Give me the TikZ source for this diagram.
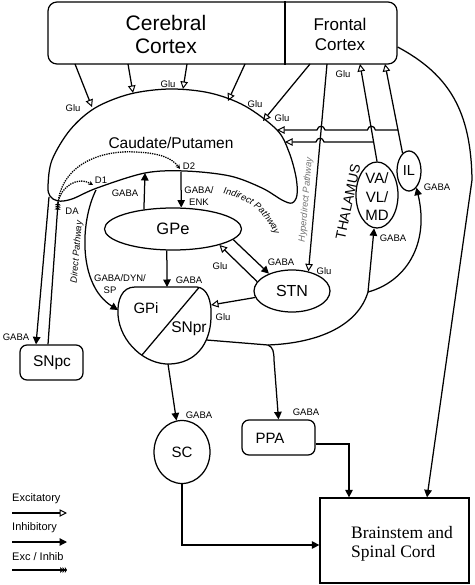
\documentclass[tikz,border=0pt]{standalone}
\usepackage{fontspec}
\setmainfont{Liberation Sans}
\newfontfamily\timesf{Liberation Serif}
\usetikzlibrary{arrows.meta,shapes.geometric,decorations.text}
\begin{document}
\begin{tikzpicture}[x=1pt,y=-1pt,
  base/.style={line width=1.25pt},
  exc/.style={base,-{Triangle[open,length=7.5pt,width=7.5pt,line width=1pt]}},
  inh/.style={base,-{Triangle[length=7.5pt,width=7.5pt]}},
  eitip/.style={base,-{Triangle[length=2.2pt,width=6pt]Triangle[length=2.2pt,width=6pt]Triangle[length=2.2pt,width=6pt]}},
  dot/.style={line width=1.3pt,densely dotted,-{Stealth[length=4.5pt,width=4.5pt]}},
  lbl/.style={font=\fontsize{9.5}{10.5}\selectfont,inner sep=0pt,align=center},
  path/.style={font=\itshape\fontsize{9.2}{10}\selectfont,inner sep=0pt},
  ell/.style={draw,base,ellipse,inner sep=0pt},
  rbox/.style={draw,base,rectangle,rounded corners=7pt,inner sep=0pt},
  bigt/.style={font=\fontsize{15.5}{18.5}\selectfont,inner sep=0pt,align=center},
  leg/.style={font=\fontsize{11}{12}\selectfont,inner sep=0pt,anchor=west}]
\useasboundingbox (0,0) rectangle (474,585);

% ---- cortex
\node[rbox,rounded corners=9pt,minimum width=349pt,minimum height=62pt] (cortex) at (222.5,33) {};
\coordinate (dv) at (285,0);
\draw[base] (cortex.north -| dv) -- (cortex.south -| dv);
\node[font=\fontsize{21}{23}\selectfont,align=center,inner sep=0pt] (cc) at (166,34) {Cerebral\\Cortex};
\node[font=\fontsize{17}{20}\selectfont,align=center,inner sep=0pt] (fc) at (340,34) {Frontal\\Cortex};

% ---- caudate / putamen
\draw[base] plot[smooth cycle,tension=0.55] coordinates {(58,201) (50,196) (48,186) (52,160) (70,130) (95,108) (130,94) (170,89) (210,93) (245,106) (277,130) (289,152) (296,177) (297,195) (292,203) (282,200) (262,188) (230,176) (185,171) (145,173) (97,188) (72,199)};
\node[font=\fontsize{15.5}{17}\selectfont,inner sep=0pt] (cp) at (171,143) {Caudate/Putamen};

% ---- nodes
\node[ell,minimum width=137pt,minimum height=42pt] (gpe) at (173,229) {};
\node[bigt,font=\fontsize{16.5}{18}\selectfont] (gpet) at (173,229) {GPe};
\node[ell,minimum width=76pt,minimum height=42pt] (stn) at (292,291) {};
\node[bigt,font=\fontsize{16}{18}\selectfont] (stnt) at (292,291) {STN};
\node[ell,minimum width=42pt,minimum height=66pt] (va) at (377,195) {};
\node[bigt,font=\fontsize{15}{18.5}\selectfont] (vat) at (377,197) {VA/\\VL/\\MD};
\node[ell,minimum width=24pt,minimum height=40pt] (il) at (409,171) {};
\node[bigt,font=\fontsize{14.5}{16}\selectfont] (ilt) at (409,171) {IL};
\node[rbox,minimum width=63pt,minimum height=35pt] (snpc) at (51.5,362.5) {};
\node[bigt] (snpct) at (52,363) {SNpc};
\node[ell,minimum width=56pt,minimum height=63pt] (sc) at (182,452) {};
\node[bigt,font=\fontsize{15}{17}\selectfont] (sct) at (182,452) {SC};
\node[rbox,minimum width=73pt,minimum height=35pt] (ppa) at (278.5,437.5) {};
\node[bigt,font=\fontsize{15}{17}\selectfont] (ppat) at (270,438) {PPA};
\node[draw,base,rectangle,minimum width=149pt,minimum height=85pt] (bs) at (394.5,540.5) {};
\node[font=\timesf\fontsize{17.5}{18.5}\selectfont,align=left,inner sep=0pt] (bst) at (402,544) {Brainstem and\\Spinal Cord};

% ---- GPi / SNpr
\draw[base] (135,287) -- (197,287) .. controls (207,288) and (212,300) .. (211,318) .. controls (210,345) and (195,363) .. (170,364) .. controls (145,365) and (120,342) .. (118,315) .. controls (117,300) and (122,287) .. (135,287) -- cycle;
\draw[base] (199,287.5) -- (142,355);
\node[bigt,font=\fontsize{15}{17}\selectfont] (gpit) at (146,308) {GPi};
\node[bigt,font=\fontsize{15.5}{17}\selectfont] (snprt) at (189,329) {SNpr};
\coordinate (gpiT) at (167,287);
\coordinate (gpiL) at (118,310);
\coordinate (gpiR) at (211,305);
\coordinate (gpiB) at (168,364);
\coordinate (snprR) at (206.5,340);

% ---- cortex -> caudate
\coordinate (k1) at (75,64);  \coordinate (c1) at (92,107);
\coordinate (k2) at (128,64); \coordinate (c2) at (133,93);
\coordinate (k3) at (187,64); \coordinate (c3) at (183,89);
\coordinate (k4) at (245,64); \coordinate (c4) at (228,101);
\coordinate (k5) at (310,64); \coordinate (c5) at (263,121);
\draw[exc] (k1) -- (c1);
\draw[exc] (k2) -- (c2);
\draw[exc] (k3) -- (c3);
\draw[exc] (k4) -- (c4);
\draw[exc] (k5) -- (c5);
\node[lbl] (g1) at (73,108) {Glu};
\node[lbl] (g2) at (168,84) {Glu};
\node[lbl] (g3) at (255,104) {Glu};
\node[lbl] (g4) at (282,118) {Glu};
\node[lbl] (g5) at (343,74) {Glu};

% ---- hyperdirect
\coordinate (k6) at (327,64);
\draw[exc] (k6) -- (stn.50);
\node[lbl] (g6) at (324,271) {Glu};
\node[path,rotate=85,text=black!55] (hyp) at (306,200) {Hyperdirect Pathway};

% ---- thalamus -> cortex
\coordinate (k7) at (360,64);
\coordinate (k8) at (385,64);
\draw[exc] (va.north) -- (k7);
\draw[exc] (il.110) -- (k8);
\node[font=\fontsize{14}{16}\selectfont,rotate=78,inner sep=0pt] (thal) at (348,202) {THALAMUS};

% ---- thalamus -> caudate (with hops)
\coordinate (h1) at (398.1,130);
\coordinate (h2) at (373.5,142);
\coordinate (c6) at (277,130);
\coordinate (c7) at (285,142);
\draw[exc] (h1) -- (375.4,130) .. controls (374.4,125) and (368.4,125) .. (367.4,130) -- (325,130) .. controls (324,125) and (318,125) .. (317,130) -- (c6);
\draw[exc] (h2) -- (324,142) .. controls (323,137) and (317,137) .. (316,142) -- (c7);

% ---- frontal -> brainstem
\draw[inh] ([yshift=-14pt]cortex.east) .. controls (450,75) and (471,112) .. (472,180) -- ([xshift=32.5pt]bs.north);

% ---- caudate <-> GPe
\coordinate (cpA) at (145,173);
\coordinate (cpB) at (181,172);
\draw[inh] (gpe.146) -- (cpA);
\draw[inh] (cpB) -- (gpe.69);
\node[lbl] (gab1) at (125,193) {GABA};
\node[lbl,font=\fontsize{9.5}{11.5}\selectfont] (gab2) at (199,196) {GABA/\\ENK};
\node[lbl] (d2) at (189,166) {D2};
\node[lbl] (d1) at (101,180) {D1};
\path[decorate,decoration={text along path,text align=left,text={|\itshape\fontsize{9.3}{10}\selectfont|Indirect Pathway}}] (223,194) .. controls (251,199) and (271,216) .. (279,248);

% ---- GPe -> GPi, GPe <-> STN
\draw[inh] (gpe.254) -- (gpiT);
\node[lbl] (gab3) at (189,280) {GABA};
\draw[inh] (gpe.-10) -- (stn.143);
\draw[exc] (stn.165) -- (gpe.-19);
\node[lbl] (gab4) at (281,262) {GABA};
\node[lbl] (g7) at (220,266) {Glu};
\draw[exc] (stn.190) -- (gpiR);
\node[lbl] (g8) at (223,317) {Glu};

% ---- direct pathway
\coordinate (d1p) at (96,190);
\draw[inh] (d1p) .. controls (80,222) and (78,285) .. (gpiL);
\node[path,rotate=85] (dirp) at (77,252) {Direct Pathway};
\node[lbl] (gab5a) at (120,278) {GABA/DYN/};
\node[lbl] (gab5b) at (110,290) {SP};

% ---- SNpc
\coordinate (ctip) at (49,197);
\coordinate (da) at (58,203);
\draw[inh] (ctip) -- ([xshift=-15.5pt]snpc.north);
\draw[eitip] ([xshift=-3.5pt]snpc.north) -- (da);
\node[lbl] (gab6) at (16,337) {GABA};
\node[lbl] (dal) at (72,211) {DA};
\coordinate (dD1) at (93,185);
\coordinate (dD2) at (180,169);
\draw[dot] (da) .. controls (61,186) and (78,176) .. (dD1);
\draw[dot] (da) .. controls (62,165) and (100,150) .. (135,152) .. controls (160,153) and (172,158) .. (dD2);

% ---- output loop
\coordinate (K) at (268,345);
\coordinate (J) at (368,292);
\draw[base] (snprR) -- (K) .. controls (320,343) and (358,325) .. (J);
\draw[inh] (J) -- (va.265);
\draw[inh] (J) .. controls (405,282) and (430,245) .. (il.-66);
\node[lbl] (gab7) at (393,238) {GABA};
\node[lbl] (gab8) at (437,187) {GABA};
\draw[inh] (K) .. controls (273,347) and (274,352) .. (274,360) -- (ppa.north);
\node[lbl] (gab9) at (306,412) {GABA};
\draw[inh] (gpiB) -- (sc.100);
\node[lbl] (gab10) at (199,415) {GABA};

% ---- to brainstem
\draw[inh] (sc.south) |- ([yshift=-4.5pt]bs.west);
\draw[inh] ([yshift=-6.5pt]ppa.east) -| ([xshift=-45.5pt]bs.north);

% ---- legend
\node[leg] (lg1) at (12,499) {Excitatory};
\node[leg] (lg2) at (12,528) {Inhibitory};
\node[leg] (lg3) at (12,557) {Exc / Inhib};
\coordinate (la1) at (12,513); \coordinate (lb1) at (67,513);
\coordinate (la2) at (12,542); \coordinate (lb2) at (67,542);
\coordinate (la3) at (12,570); \coordinate (lb3) at (67,570);
\draw[exc] (la1) -- (lb1);
\draw[inh] (la2) -- (lb2);
\draw[eitip] (la3) -- (lb3);
\end{tikzpicture}
\end{document}
